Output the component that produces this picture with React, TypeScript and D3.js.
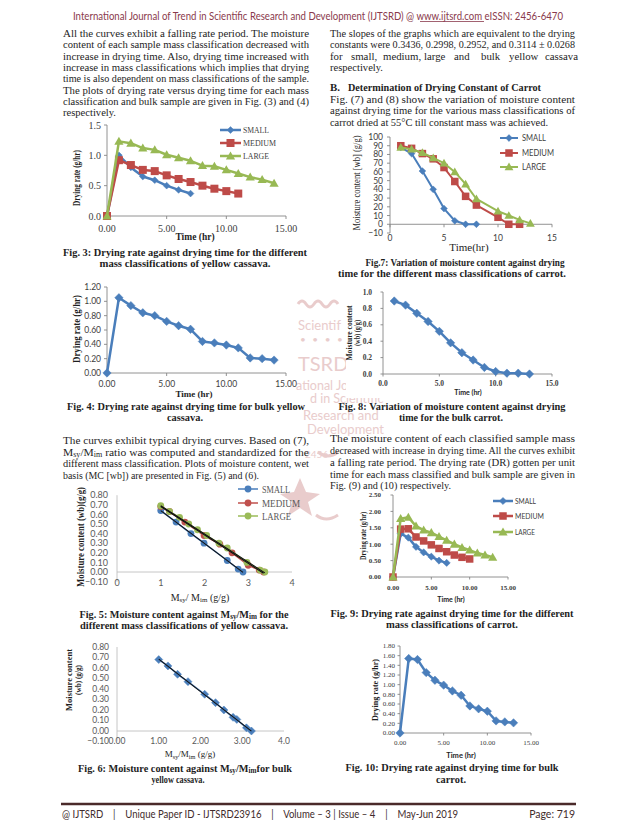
import React from 'react';
import * as d3 from 'd3';

const SERIF = "'Liberation Serif', 'DejaVu Serif', serif";
const SANS = "Lato, 'Open Sans', 'Liberation Sans', sans-serif";
const BLUE = '#4a7ebb';
const RED = '#be4b48';
const GREEN = '#98b954';
const TXT = '#1e1e1e';

// ---------- DATA ----------
const seriesNames = ['SMALL', 'MEDIUM', 'LARGE'];

// Fig 3: drying rate vs time, yellow cassava classes
const fig3SmallTime = [0, 1, 2, 3, 4, 5, 6, 7];
const fig3SmallRate = [0, 1.0, 0.8, 0.65, 0.59, 0.5, 0.43, 0.37];
const fig3MediumTime = [0, 1, 2, 3, 4, 5, 6, 7, 8, 9, 10, 11];
const fig3MediumRate = [0, 0.92, 0.84, 0.76, 0.74, 0.67, 0.61, 0.56, 0.5, 0.45, 0.41, 0.37];
const fig3LargeTime = [0, 1, 2, 3, 4, 5, 6, 7, 8, 9, 10, 11, 12, 13, 14];
const fig3LargeRate = [0, 1.23, 1.2, 1.12, 1.09, 1.01, 0.96, 0.91, 0.83, 0.82, 0.76, 0.7, 0.64, 0.6, 0.54];

// Fig 4: bulk yellow cassava drying rate
const fig4Time = [0, 1, 2, 3, 4, 5, 6, 7, 8, 9, 10, 11, 12, 13, 14];
const fig4Rate = [0, 1.05, 0.94, 0.84, 0.8, 0.72, 0.66, 0.61, 0.44, 0.42, 0.39, 0.35, 0.21, 0.2, 0.18];

// Fig 5: moisture content vs Msy/Mim
const fig5SmallRatio = [1.0, 1.35, 1.69, 1.99, 2.52, 2.77, 2.88];
const fig5SmallMC = [0.64, 0.52, 0.4, 0.3, 0.12, 0.03, 0.0];
const fig5MediumRatio = [1.0, 1.2, 1.55, 1.99, 2.35, 2.63, 3.0, 3.25, 3.35];
const fig5MediumMC = [0.68, 0.63, 0.52, 0.38, 0.29, 0.2, 0.07, 0.02, 0.0];
const fig5LargeRatio = [1.0, 1.2, 1.43, 1.64, 1.84, 2.05, 2.33, 2.52, 2.97, 3.27, 3.38];
const fig5LargeMC = [0.69, 0.63, 0.57, 0.5, 0.44, 0.38, 0.3, 0.25, 0.1, 0.02, 0.0];

// Fig 6: bulk yellow cassava
const fig6Ratio = [1.0, 1.22, 1.45, 1.7, 2.1, 2.36, 2.56, 2.78, 2.87, 3.1, 3.22];
const fig6MC = [0.68, 0.62, 0.54, 0.47, 0.35, 0.27, 0.2, 0.13, 0.11, 0.03, 0.0];
const fig6XLabels = ['0.00', '1.00', '2.00', '3.00', '4.0'];

// Fig 7: carrot moisture content vs time
const fig7SmallTime = [1, 2, 3, 4, 5, 6, 7, 8];
const fig7SmallMC = [88, 81, 61, 40, 18, 4, 0, 0];
const fig7MediumTime = [1, 2, 3, 4, 5, 6, 7, 8, 10, 11, 12];
const fig7MediumMC = [90, 87, 81, 75, 65, 49, 32, 22, 8, 0, 0];
const fig7LargeTime = [1, 2, 3, 4, 5, 6, 7, 8, 10, 11, 12, 13];
const fig7LargeMC = [88, 86, 82, 76, 70, 60, 46, 29, 15, 10, 5, 1];

// Fig 8: bulk carrot moisture content
const fig8Time = [1, 2, 3, 4, 5, 6, 7, 8, 9, 10, 11, 12, 13];
const fig8MC = [0.89, 0.84, 0.74, 0.64, 0.52, 0.38, 0.26, 0.17, 0.08, 0.03, 0.01, 0.01, 0.0];

// Fig 9: carrot drying rate by class
const fig9SmallTime = [0, 1, 2, 3, 4, 5, 6, 7];
const fig9SmallRate = [0, 1.32, 1.2, 0.92, 0.75, 0.62, 0.5, 0.43];
const fig9MediumTime = [0, 1, 2, 3, 4, 5, 6, 7, 8, 9, 10];
const fig9MediumRate = [0, 1.46, 1.47, 1.22, 1.1, 0.98, 0.87, 0.77, 0.67, 0.6, 0.55];
const fig9LargeTime = [0, 1, 2, 3, 4, 5, 6, 7, 8, 9, 10, 11, 12, 13];
const fig9LargeRate = [0, 1.78, 1.82, 1.55, 1.43, 1.35, 1.23, 1.12, 1.0, 0.9, 0.82, 0.73, 0.67, 0.6];

// Fig 10: bulk carrot drying rate
const fig10Time = [0, 1, 2, 3, 4, 5, 6, 7, 8, 9, 10, 11, 12, 13];
const fig10Rate = [0, 1.54, 1.52, 1.25, 1.09, 0.99, 0.87, 0.78, 0.56, 0.5, 0.45, 0.25, 0.23, 0.21];

// ---------- HELPERS ----------
type Series = {
  name: string; xs: number[]; ys: number[]; color: string; shape: string; size: number; lw: number; trend?: boolean;
};

function Marker({ shape, x, y, s, color }: any) {
  if (shape === 'diamond') {
    return <polygon points={`${x},${y - s} ${x + s},${y} ${x},${y + s} ${x - s},${y}`} fill={color} stroke={color} strokeWidth={0.5} />;
  }
  if (shape === 'square') {
    return <rect x={x - s / 2} y={y - s / 2} width={s} height={s} fill={color} />;
  }
  if (shape === 'triangle') {
    return <polygon points={`${x},${y - s} ${x + s},${y + s * 0.75} ${x - s},${y + s * 0.75}`} fill={color} />;
  }
  return <circle cx={x} cy={y} r={s} fill={color} />;
}

function fit(xs: number[], ys: number[]) {
  const mx = d3.mean(xs) as number;
  const my = d3.mean(ys) as number;
  let num = 0, den = 0;
  xs.forEach((v, i) => { num += (v - mx) * (ys[i] - my); den += (v - mx) * (v - mx); });
  const b = num / den;
  return { b, a: my - b * mx };
}

function Chart(p: any) {
  const x = d3.scaleLinear().domain(p.xd).range(p.xr);
  const y = d3.scaleLinear().domain(p.yd).range(p.yr);
  const axisY = y(p.xAxisAt ?? p.yd[0]);
  const x0 = x(p.xd[0]);
  const tl = p.tickLen ?? 0;
  const line = d3.line<number[]>().x(d => x(d[0])).y(d => y(d[1]));
  const fs = p.fs;
  const series: Series[] = p.series;
  return (
    <g>
      <line x1={x0} x2={x(p.xd[1])} y1={axisY} y2={axisY} stroke={p.axisColor} strokeWidth={0.9} />
      <line x1={x0} x2={x0} y1={y(p.yd[0])} y2={y(p.yd[1])} stroke={p.axisColor} strokeWidth={0.9} />
      {tl > 0 && p.yTicks.map((v: number, i: number) => (
        <line key={'yt' + i} x1={x0 - tl} x2={x0} y1={y(v)} y2={y(v)} stroke={p.axisColor} strokeWidth={0.9} />
      ))}
      {tl > 0 && p.xTicks.map((v: number, i: number) => (
        <line key={'xt' + i} x1={x(v)} x2={x(v)} y1={axisY} y2={axisY + tl} stroke={p.axisColor} strokeWidth={0.9} />
      ))}
      {p.yTicks.map((v: number, i: number) => (
        <text key={'yl' + i} x={p.yLabelX} y={y(v) + fs * 0.35} textAnchor="end" fontSize={fs} fontFamily={p.font}
          fontWeight={p.tickWeight || 'normal'} fill={p.tickColor}>{p.yFmt(v)}</text>
      ))}
      {p.xTicks.map((v: number, i: number) => (
        <text key={'xl' + i} x={x(v)} y={p.xLabelY + fs * 0.35} textAnchor="middle" fontSize={fs} fontFamily={p.font}
          fontWeight={p.tickWeight || 'normal'} fill={p.tickColor}>{p.xLabels ? p.xLabels[i] : p.xFmt(v)}</text>
      ))}
      {series.map((s, si) => {
        const pts = s.xs.map((v, i) => [v, s.ys[i]]);
        return (
          <g key={'s' + si}>
            <path d={line(pts) || ''} fill="none" stroke={s.color} strokeWidth={s.lw} strokeLinejoin="round" />
            {pts.map((d, i) => <Marker key={i} shape={s.shape} x={x(d[0])} y={y(d[1])} s={s.size} color={s.color} />)}
          </g>
        );
      })}
      {series.filter(s => s.trend).map((s, si) => {
        const f = fit(s.xs, s.ys);
        const xa = d3.min(s.xs) as number;
        const xb = d3.max(s.xs) as number;
        return <line key={'tr' + si} x1={x(xa)} x2={x(xb)} y1={y(f.a + f.b * xa)} y2={y(f.a + f.b * xb)} stroke="#111" strokeWidth={1.1} />;
      })}
      {p.legend && series.map((s, i) => {
        const L = p.legend;
        const ly = L.ys[i];
        return (
          <g key={'lg' + i}>
            <line x1={L.x0} x2={L.x1} y1={ly} y2={ly} stroke={s.color} strokeWidth={s.lw} />
            <Marker shape={s.shape} x={(L.x0 + L.x1) / 2} y={ly} s={s.size} color={s.color} />
            <text x={L.tx} y={ly + L.fs * 0.36} fontSize={L.fs} fontFamily={L.family} fill={L.color}
              textLength={L.lens[i]} lengthAdjust="spacingAndGlyphs">{s.name}</text>
          </g>
        );
      })}
      {p.yTitle && p.yTitle.lines.map((l: any, i: number) => (
        <text key={'ytt' + i} transform={`translate(${l.x},${p.yTitle.cy}) rotate(-90)`} dy="0.35em" textAnchor="middle"
          fontSize={p.yTitle.fs} fontWeight={p.yTitle.weight} fontFamily={p.yTitle.family} fill={TXT}
          textLength={l.len} lengthAdjust="spacingAndGlyphs">{l.t}</text>
      ))}
      {p.xTitle && (
        <text x={p.xTitle.cx} y={p.xTitle.y + p.xTitle.fs * 0.35} textAnchor="middle" fontSize={p.xTitle.fs}
          fontWeight={p.xTitle.weight} fontFamily={p.xTitle.family} fill={TXT}>{p.xTitle.t}</text>
      )}
    </g>
  );
}

function T({ x, y, w, children, anchor = 'start', size = 10.8, weight = 'normal', family = SERIF, fill = TXT }: any) {
  return (
    <text x={x} y={y} textLength={w} lengthAdjust="spacingAndGlyphs" fontSize={size} fontWeight={weight}
      fontFamily={family} fill={fill} textAnchor={anchor}>{children}</text>
  );
}

const Sub = ({ children }: any) => <tspan dy={1.5} fontSize="0.7em">{children}</tspan>;
const Up = ({ children }: any) => <tspan dy={-1.5}>{children}</tspan>;

function mk(names: string[], xsArr: number[][], ysArr: number[][], colors: string[], shapes: string[], sizes: number[], lw: number, trend = false): Series[] {
  return xsArr.map((xs, i) => ({ name: names[i], xs, ys: ysArr[i], color: colors[i], shape: shapes[i], size: sizes[i], lw, trend }));
}

const spreadWords = ['for', 'small,', 'medium,', 'large', 'and', 'bulk', 'yellow', 'cassava'];
const spreadX = [330, 351, 383, 424, 454, 481, 509, 545];

export default function App() {
  const f2 = d3.format('.2f');
  const f1 = d3.format('.1f');
  const f0 = d3.format('d');
  const C3 = [BLUE, RED, GREEN];
  const EX = [BLUE, '#c0504d', '#9bbb59'];

  const s3 = mk(seriesNames, [fig3SmallTime, fig3MediumTime, fig3LargeTime], [fig3SmallRate, fig3MediumRate, fig3LargeRate], C3, ['diamond', 'square', 'triangle'], [3.4, 8, 4.6], 2.5);
  const s4 = mk(['BULK'], [fig4Time], [fig4Rate], [BLUE], ['diamond'], [4.2], 2.5);
  const s5 = mk(seriesNames, [fig5SmallRatio, fig5MediumRatio, fig5LargeRatio], [fig5SmallMC, fig5MediumMC, fig5LargeMC], EX, ['circle', 'circle', 'circle'], [3.4, 3.4, 3.4], 1.5, true);
  const s6 = mk(['BULK'], [fig6Ratio], [fig6MC], [BLUE], ['diamond'], [4], 1.5, true);
  const s7 = mk(seriesNames, [fig7SmallTime, fig7MediumTime, fig7LargeTime], [fig7SmallMC, fig7MediumMC, fig7LargeMC], C3, ['diamond', 'square', 'triangle'], [3.4, 7.5, 4.4], 2);
  const s8 = mk(['BULK'], [fig8Time], [fig8MC], [BLUE], ['diamond'], [4.2], 2.5);
  const s9 = mk(seriesNames, [fig9SmallTime, fig9MediumTime, fig9LargeTime], [fig9SmallRate, fig9MediumRate, fig9LargeRate], C3, ['diamond', 'square', 'triangle'], [3.6, 7.5, 4.6], 2.5);
  const s10 = mk(['BULK'], [fig10Time], [fig10Rate], [BLUE], ['diamond'], [4.2], 2.5);

  const lc = [37, 48.3, 59.6, 70.9, 82.2, 93.5, 104.8, 116.1];
  const WM = '#e9cccc';
  const HC = '#8a3a4c';

  return (
    <svg width={638} height={826} style={{ position: 'absolute', left: 0, top: 0 }}>
      <rect x={0} y={0} width={638} height={826} fill="#fff" />

      {/* watermark */}
      <g fontFamily={SANS} fill={WM}>
        <path d="M298,304 q4,-6 8,0 q4,6 8,0 q4,-6 8,0 q4,6 8,0 q4,-6 8,0" stroke={WM} strokeWidth={3} fill="none" />
        <text x={298} y={330} fontSize={13}>Scientif</text>
        <text x={300} y={343} fontSize={10} letterSpacing={2}>• • • • •</text>
        <text x={298} y={371} fontSize={20}>TSRD</text>
        <text x={296} y={390} fontSize={12.5}>ational Jo</text>
        <text x={310} y={403} fontSize={12.5}>d in Scientific</text>
        <text x={303} y={420} fontSize={13}>Research and</text>
        <text x={307} y={434} fontSize={13}>Development</text>
        <text x={305} y={458} fontSize={10}>2456</text>
        <polygon points="300,478 306,492 320,494 308,502 312,516 300,508 288,516 292,502 280,494 294,492" />
        <path d="M318,452 q10,8 20,0 M316,515 q10,8 22,0" stroke={WM} strokeWidth={3} fill="none" />
      </g>
      <rect x={346} y={286} width={219} height={112} fill="#fff" />

      {/* header */}
      <text x={73} y={19.5} textLength={490} lengthAdjust="spacingAndGlyphs" fontSize={10.5} fontFamily={SANS} fill={HC}>
        International Journal of Trend in Scientific Research and Development (IJTSRD) @ www.ijtsrd.com eISSN: 2456-6470
      </text>
      <line x1={420} x2={484} y1={21.5} y2={21.5} stroke={HC} strokeWidth={0.8} />

      {/* left column paragraph 1 */}
      <T x={63} y={lc[0]} w={246}>All the curves exhibit a falling rate period. The moisture</T>
      <T x={63} y={lc[1]} w={246}>content of each sample mass classification decreased with</T>
      <T x={63} y={lc[2]} w={246}>increase in drying time. Also, drying time increased with</T>
      <T x={63} y={lc[3]} w={246}>increase in mass classifications which implies that drying</T>
      <T x={63} y={lc[4]} w={246}>time is also dependent on mass classifications of the sample.</T>
      <T x={63} y={lc[5]} w={246}>The plots of drying rate versus drying time for each mass</T>
      <T x={63} y={lc[6]} w={246}>classification and bulk sample are given in Fig. (3) and (4)</T>
      <T x={63} y={lc[7]} w={53}>respectively.</T>

      {/* right column paragraph 1 */}
      <T x={330} y={lc[0]} w={245}>The slopes of the graphs which are equivalent to the drying</T>
      <T x={330} y={lc[1]} w={245}>constants were 0.3436, 0.2998, 0.2952, and 0.3114 ± 0.0268</T>
      {spreadWords.map((w, i) => (
        <text key={'sw' + i} x={spreadX[i]} y={lc[2]} fontSize={10.8} fontFamily={SERIF} fill={TXT}>{w}</text>
      ))}
      <T x={330} y={lc[3]} w={53}>respectively.</T>
      <T x={330} y={91} w={10} weight="bold">B.</T>
      <T x={348} y={91} w={193} weight="bold">Determination of Drying Constant of Carrot</T>
      <T x={330} y={102.5} w={245}>Fig. (7) and (8) show the variation of moisture content</T>
      <T x={330} y={114} w={245}>against drying time for the various mass classifications of</T>
      <T x={330} y={126} w={218}>carrot dried at 55°C till constant mass was achieved.</T>

      {/* left column paragraph 2 */}
      <T x={63} y={444} w={246}>The curves exhibit typical drying curves. Based on (7),</T>
      <T x={63} y={455.5} w={246}>M<Sub>sy</Sub><Up>/M</Up><Sub>im</Sub><Up> ratio was computed and standardized for the</Up></T>
      <T x={63} y={467} w={246}>different mass classification. Plots of moisture content, wet</T>
      <T x={63} y={478.5} w={196}>basis (MC [wb]) are presented in Fig. (5) and (6).</T>

      {/* right column paragraph 2 */}
      <T x={330} y={442} w={245}>The moisture content of each classified sample mass</T>
      <T x={330} y={454} w={245}>decreased with increase in drying time. All the curves exhibit</T>
      <T x={330} y={466} w={245}>a falling rate period. The drying rate (DR) gotten per unit</T>
      <T x={330} y={477.5} w={245}>time for each mass classified and bulk sample are given in</T>
      <T x={330} y={489} w={121}>Fig. (9) and (10) respectively.</T>

      {/* Fig 3 */}
      <Chart xd={[0, 15]} xr={[107, 286]} yd={[0, 1.5]} yr={[216, 125]} xTicks={[0, 5, 10, 15]} yTicks={[0, 0.5, 1, 1.5]}
        xFmt={f2} yFmt={f1} font={SERIF} fs={10} tickColor="#404040" xLabelY={228} yLabelX={101} tickLen={3}
        axisColor="#868686" series={s3}
        legend={{ x0: 220, x1: 241, tx: 243, ys: [130, 143, 156], fs: 8, family: SERIF, color: '#404040', lens: [26, 33, 26] }}
        yTitle={{ lines: [{ t: 'Drying rate (g/hr)', x: 77, len: 56 }], cy: 178, fs: 9.5, weight: 'bold', family: SERIF }}
        xTitle={{ t: 'Time (hr)', cx: 195, y: 237, fs: 9.5, weight: 'bold', family: SERIF }} />
      <T x={185} y={255.5} w={244} anchor="middle" weight="bold" size={10.5}>Fig. 3: Drying rate against drying time for the different</T>
      <T x={185} y={266.5} w={171} anchor="middle" weight="bold" size={10.5}>mass classifications of yellow cassava.</T>

      {/* Fig 4 */}
      <Chart xd={[0, 15]} xr={[107, 286]} yd={[0, 1.2]} yr={[373, 287]} xTicks={[0, 5, 10, 15]} yTicks={[0, 0.2, 0.4, 0.6, 0.8, 1.0, 1.2]}
        xFmt={f2} yFmt={f2} font={SANS} fs={8.5} tickColor="#404040" xLabelY={384} yLabelX={101} tickLen={3}
        axisColor="#868686" series={s4}
        yTitle={{ lines: [{ t: 'Drying rate (g/hr)', x: 77, len: 68 }], cy: 329, fs: 9.5, weight: 'bold', family: SERIF }}
        xTitle={{ t: 'Time (hr)', cx: 194, y: 394, fs: 9, weight: 'bold', family: SERIF }} />
      <T x={186} y={409.5} w={238} anchor="middle" weight="bold" size={10.5}>Fig. 4: Drying rate against drying time for bulk yellow</T>
      <T x={185} y={420.5} w={36} anchor="middle" weight="bold" size={10.5}>cassava.</T>

      {/* Fig 7 */}
      <Chart xd={[0, 15]} xr={[390, 552]} yd={[-10, 100]} yr={[233, 137]} xAxisAt={0} xTicks={[0, 5, 10, 15]}
        yTicks={[-10, 0, 10, 20, 30, 40, 50, 60, 70, 80, 90, 100]}
        xFmt={f0} yFmt={f0} font={SANS} fs={8.5} tickColor="#404040" xLabelY={238} yLabelX={383} tickLen={3}
        axisColor="#868686" series={s7}
        legend={{ x0: 500, x1: 518, tx: 522, ys: [138, 153, 167], fs: 8.5, family: SANS, color: '#404040', lens: [24, 32, 24] }}
        yTitle={{ lines: [{ t: 'Moisture content [wb] (g/g)', x: 356, len: 95 }], cy: 183, fs: 10.5, weight: 'normal', family: SERIF }}
        xTitle={{ t: 'Time(hr)', cx: 469, y: 247, fs: 11, weight: 'normal', family: SERIF }} />
      <T x={465} y={265.5} w={199} anchor="middle" weight="bold" size={10.5}>Fig.7: Variation of moisture content against drying</T>
      <T x={452} y={276.5} w={228} anchor="middle" weight="bold" size={10.5}>time for the different mass classifications of carrot.</T>

      {/* Fig 8 */}
      <Chart xd={[0, 15]} xr={[383, 552]} yd={[0, 1]} yr={[374, 292]} xTicks={[0, 5, 10, 15]} yTicks={[0, 0.2, 0.4, 0.6, 0.8, 1.0]}
        xFmt={f1} yFmt={f1} font={SERIF} fs={7.5} tickWeight="bold" tickColor="#404040" xLabelY={383} yLabelX={372} tickLen={2.5}
        axisColor="#868686" series={s8}
        yTitle={{ lines: [{ t: 'Moisture content', x: 349, len: 55 }, { t: '(wb) (g/g)', x: 357, len: 26 }], cy: 333, fs: 7.5, weight: 'bold', family: SERIF }}
        xTitle={{ t: 'Time (hr)', cx: 468, y: 393, fs: 7, weight: 'bold', family: SANS }} />
      <T x={452} y={409.5} w={227} anchor="middle" weight="bold" size={10.5}>Fig. 8: Variation of moisture content against drying</T>
      <T x={451} y={420.5} w={104} anchor="middle" weight="bold" size={10.5}>time for the bulk carrot.</T>

      {/* Fig 5 */}
      <Chart xd={[0, 4]} xr={[117, 292]} yd={[-0.1, 0.8]} yr={[581.6, 495.2]} xAxisAt={0} xTicks={[0, 1, 2, 3, 4]}
        yTicks={[-0.1, 0, 0.1, 0.2, 0.3, 0.4, 0.5, 0.6, 0.7, 0.8]}
        xFmt={f0} yFmt={f2} font={SANS} fs={9} tickColor="#595959" xLabelY={583} yLabelX={108} tickLen={0}
        axisColor="#bfbfbf" series={s5}
        legend={{ x0: 238, x1: 258, tx: 262, ys: [489, 503, 516], fs: 10, family: SERIF, color: '#595959', lens: [28, 38, 29] }}
        yTitle={{ lines: [{ t: 'Moisture content (wb)(g/g)', x: 80, len: 100 }], cy: 537, fs: 10, weight: 'bold', family: SERIF }}
        xTitle={{ t: <>M<Sub>sy</Sub><Up>/ M</Up><Sub>im</Sub><Up> (g/g)</Up></>, cx: 200, y: 597, fs: 10, weight: 'normal', family: SERIF }} />
      <T x={184} y={617.5} w={209} anchor="middle" weight="bold" size={10.5}>Fig. 5: Moisture content against M<Sub>sy</Sub><Up>/M</Up><Sub>im</Sub><Up> for the</Up></T>
      <T x={184} y={628.5} w={208} anchor="middle" weight="bold" size={10.5}>different mass classifications of yellow cassava.</T>

      {/* Fig 6 */}
      <Chart xd={[0, 4]} xr={[117, 284]} yd={[-0.1, 0.8]} yr={[741.5, 647]} xAxisAt={0} xTicks={[0, 1, 2, 3, 4]}
        yTicks={[-0.1, 0, 0.1, 0.2, 0.3, 0.4, 0.5, 0.6, 0.7, 0.8]} xLabels={fig6XLabels}
        xFmt={f2} yFmt={f2} font={SANS} fs={8.5} tickColor="#595959" xLabelY={741} yLabelX={109} tickLen={0}
        axisColor="#bfbfbf" series={s6}
        yTitle={{ lines: [{ t: 'Moisture content', x: 69, len: 62 }, { t: '(wb) (g/g)', x: 78, len: 30 }], cy: 680, fs: 8.5, weight: 'bold', family: SERIF }}
        xTitle={{ t: <>M<Sub>sy</Sub><Up>/M</Up><Sub>im</Sub><Up> (g/g)</Up></>, cx: 190, y: 754, fs: 9, weight: 'normal', family: SERIF }} />
      <T x={185} y={771.5} w={214} anchor="middle" weight="bold" size={10.5}>Fig. 6: Moisture content against M<Sub>sy</Sub><Up>/M</Up><Sub>im</Sub><Up>for bulk</Up></T>
      <T x={178} y={782.5} w={53} anchor="middle" weight="bold" size={10.5}>yellow cassava.</T>

      {/* Fig 9 */}
      <Chart xd={[0, 15]} xr={[393, 508]} yd={[0, 2.5]} yr={[577, 495]} xTicks={[0, 5, 10, 15]} yTicks={[0, 0.5, 1, 1.5, 2, 2.5]}
        xFmt={f2} yFmt={f2} font={SERIF} fs={7} tickWeight="bold" tickColor="#404040" xLabelY={588} yLabelX={381} tickLen={2.5}
        axisColor="#868686" series={s9}
        legend={{ x0: 493, x1: 513, tx: 515, ys: [501, 516, 532], fs: 7.5, family: SANS, color: '#404040', lens: [21, 29, 20] }}
        yTitle={{ lines: [{ t: 'Drying rate (g/hr)', x: 363, len: 48 }], cy: 536, fs: 7.5, weight: 'bold', family: SERIF }}
        xTitle={{ t: 'Time (hr)', cx: 451, y: 600, fs: 7, weight: 'bold', family: SANS }} />
      <T x={452} y={616.5} w={243} anchor="middle" weight="bold" size={10.5}>Fig. 9: Drying rate against drying time for the different</T>
      <T x={452} y={627.5} w={132} anchor="middle" weight="bold" size={10.5}>mass classifications of carrot.</T>

      {/* Fig 10 */}
      <Chart xd={[0, 15]} xr={[400, 531]} yd={[0, 1.8]} yr={[733, 646]} xTicks={[0, 5, 10, 15]}
        yTicks={[0, 0.2, 0.4, 0.6, 0.8, 1.0, 1.2, 1.4, 1.6, 1.8]}
        xFmt={f2} yFmt={f2} font={SERIF} fs={7} tickColor="#404040" xLabelY={743} yLabelX={395} tickLen={2.5}
        axisColor="#868686" series={s10}
        yTitle={{ lines: [{ t: 'Drying rate (g/hr)', x: 375, len: 62 }], cy: 690, fs: 8, weight: 'bold', family: SERIF }}
        xTitle={{ t: 'Time (hr)', cx: 461, y: 755, fs: 7.5, weight: 'bold', family: SANS }} />
      <T x={452} y={770.5} w={213} anchor="middle" weight="bold" size={10.5}>Fig. 10: Drying rate against drying time for bulk</T>
      <T x={451} y={782.5} w={30} anchor="middle" weight="bold" size={10.5}>carrot.</T>

      {/* footer */}
      <line x1={61} x2={576} y1={804} y2={804} stroke="#4a2a2a" strokeWidth={2.5} />
      <text x={62} y={817.5} textLength={396} lengthAdjust="spacingAndGlyphs" fontSize={10.5} fontFamily={SANS} fill="#3f2b2b"
        style={{ whiteSpace: 'pre' }}>
        {'@ IJTSRD    |    Unique Paper ID - IJTSRD23916    |    Volume – 3 | Issue – 4    |    May-Jun 2019'}
      </text>
      <text x={575} y={817.5} textAnchor="end" fontSize={10.5} fontFamily={SANS} fill="#3f2b2b">Page: 719</text>
    </svg>
  );
}
